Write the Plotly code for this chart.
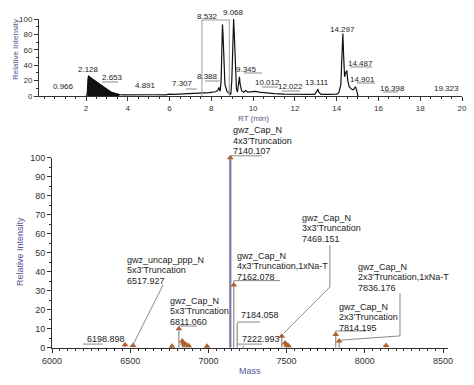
import plotly.graph_objects as go

# ---------------- Chromatogram (RT in min, relative intensity) ----------------
rt = [2.00, 2.06, 2.10, 2.13, 2.20, 2.30, 2.40, 2.50, 2.60, 2.70, 2.80, 2.90, 3.00,
      3.10, 3.20, 3.30, 3.40, 3.50, 3.60, 3.80, 4.00, 4.50, 4.90, 5.30, 5.80, 6.00,
      6.20, 6.60, 7.00, 7.30, 7.60, 7.90, 8.20, 8.30, 8.37, 8.42, 8.47, 8.50, 8.532,
      8.56, 8.60, 8.65, 8.75, 8.85, 8.93, 8.98, 9.02, 9.068, 9.10, 9.15, 9.20, 9.25,
      9.30, 9.345, 9.38, 9.45, 9.55, 9.65, 9.75, 9.90, 10.00, 10.10, 10.30, 10.60,
      11.00, 11.50, 12.00, 12.50, 12.95, 13.05, 13.10, 13.15, 13.25, 13.60, 14.00,
      14.10, 14.20, 14.25, 14.297, 14.33, 14.38, 14.43, 14.487, 14.53, 14.60, 14.70,
      14.80, 14.87, 14.90, 14.95, 15.00, 15.02]
rt_int = [0.5, 2, 24, 26, 24, 22, 20, 18, 16, 14, 12, 10, 8,
          6.5, 5, 4, 3, 2.2, 1.8, 1.5, 1.4, 1.5, 1.8, 1.6, 1.5, 2.5,
          2, 2.5, 3, 3.5, 3.8, 4.5, 5.5, 7, 11, 6, 20, 70, 93,
          80, 40, 15, 6, 3, 2, 20, 80, 100, 80, 30, 10, 5,
          15, 25, 15, 7, 5, 7, 5, 5.5, 6.5, 6, 5, 4,
          3, 2.5, 2.2, 2, 2, 6, 9, 5, 2, 2, 2.5,
          4, 15, 50, 81, 55, 25, 30, 33, 20, 12, 9,
          8, 11, 12, 8, 1, 0]
# noisy (dense) region right after injection, drawn as a filled band
band_rt = [2.06, 2.10, 2.13, 2.20, 2.30, 2.40, 2.50, 2.60, 2.70, 2.80, 2.90, 3.00,
           3.10, 3.20, 3.30, 3.40, 3.50, 3.60]
band_top = [2, 24, 26, 24, 22, 20, 18, 16, 14, 12, 10, 8,
            6.5, 5, 4, 3, 2.2, 1.8]

rt_labels = ["0.966", "2.128", "2.653", "4.891", "7.307", "8.388", "8.532", "9.068",
             "9.345", "10.012", "12.022", "13.111", "14.297", "14.487", "14.901",
             "16.398", "19.323"]
rt_label_x = [0.90, 2.10, 3.25, 4.83, 6.64, 7.84, 7.84, 9.08, 9.66, 10.71, 11.77,
              13.06, 14.30, 15.12, 15.26, 16.65, 19.28]
rt_label_y = [11.7, 35, 23.4, 13, 15.6, 24.7, 102.6, 109, 33.8, 17, 11.7, 17, 87,
              41.6, 20.8, 9.1, 9.1]
# short underlines of the peak labels: (x0, x1, y)
rt_underlines = [(2.77, 3.53, 18.2), (6.79, 7.31, 9.1), (7.70, 8.41, 19.5),
                 (9.56, 10.42, 29.9), (10.42, 11.19, 11.7), (11.38, 12.24, 6.5),
                 (14.64, 15.69, 37.7), (14.97, 15.84, 16.9), (16.22, 16.94, 5.2)]
rt_box = [7.55, 8.86, 98.7]

# ---------------- Deconvoluted mass spectrum ----------------
mass = [6467, 6518, 6767, 6811.06, 6833, 6840, 6848, 6858, 6875, 6991,
        7140.107, 7162.078, 7184.058, 7222.993, 7469.151, 7490, 7500, 7512,
        7814.195, 7836.176, 8136]
mass_int = [1.5, 1.2, 0.8, 10, 3.5, 2.5, 2, 1.5, 1, 0.8,
            100, 33, 13, 1, 6, 2.5, 1.5, 1,
            7, 3.5, 1.2]
mass_marked = [True, True, True, True, True, True, True, True, True, True,
               True, True, False, False, True, True, True, True,
               True, True, True]

ms_labels = [
    ["6198.898"],
    ["gwz_uncap_ppp_N", "5x3’Truncation", "6517.927"],
    ["gwz_Cap_N", "5x3’Truncation", "6811.060"],
    ["gwz_Cap_N", "4x3’Truncation", "7140.107"],
    ["gwz_Cap_N", "4x3’Truncation,1xNa-T", "7162.078"],
    ["7184.058"],
    ["7222.993"],
    ["gwz_Cap_N", "3x3’Truncation", "7469.151"],
    ["gwz_Cap_N", "2x3’Truncation", "7814.195"],
    ["gwz_Cap_N", "2x3’Truncation,1xNa-T", "7836.176"],
]
ms_label_x = [6211, 6467, 6742, 7145, 7170, 7196, 7202, 7586, 7822, 7944]
ms_label_y = [4.6, 46.2, 24.7, 114.5, 48.3, 17.2, 4.6, 68.3, 21.4, 42.5]
# leader lines: list of polylines (mass, intensity)
ms_leaders = [
    [(6198, 1.9), (6326, 1.9)],
    [(6710, 33), (6518, 1.5)],
    [(6812, 10), (6812, 11.4), (6927, 11.4)],
    [(7140, 99.5), (7145, 101), (7343, 101)],
    [(7162, 33.5), (7162, 35.3), (7458, 35.3)],
    [(7184, 13.5), (7330, 13.5)],
    [(7189, 1.9), (7343, 1.9)],
    [(7777, 54), (7777, 32), (7480, 7.5)],
    [(7814, 7.5), (7814, 8.8), (8008, 8.8)],
    [(8225, 28.8), (8225, 6.2), (7845, 4)],
]

W, H = 474, 385
FONT = "Liberation Sans, Arial, sans-serif"
AXC = "#333333"
TITLEC = "#54548f"
LEADC = "#8a8a8a"
MARKC = "#b0602a"

# plot-area geometry (pixels)
TOP_X = (39, 462, -0.25, 20.0)      # px0, px1, v0, v1
TOP_Y = (96, 19, 0.0, 100.0)
BOT_X = (52, 448, 6000.0, 8532.0)
BOT_Y = (347.7, 157.7, 0.0, 100.0)


def px_per_unit(g):
    return abs(g[1] - g[0]) / (g[3] - g[2])


def to_paper_x(g, v):
    return (g[0] + (v - g[2]) * (g[1] - g[0]) / (g[3] - g[2])) / W


def to_paper_y(g, v):
    return 1 - (g[0] + (v - g[2]) * (g[1] - g[0]) / (g[3] - g[2])) / H


fig = go.Figure()

# chromatogram
fig.add_trace(go.Scatter(x=band_rt, y=band_top, mode="lines", fill="tozeroy",
                         fillcolor="#111111", line=dict(color="#111111", width=1),
                         xaxis="x", yaxis="y", hoverinfo="skip", showlegend=False))
fig.add_trace(go.Scatter(x=rt, y=rt_int, mode="lines",
                         line=dict(color="#111111", width=1.2),
                         xaxis="x", yaxis="y", showlegend=False))

# mass spectrum sticks
main_i = mass_int.index(max(mass_int))
sx, sy = [], []
for i, (m, v) in enumerate(zip(mass, mass_int)):
    if i == main_i:
        continue
    sx += [m, m, None]
    sy += [0, v, None]
fig.add_trace(go.Scatter(x=sx, y=sy, mode="lines", line=dict(color="#8c8c8c", width=1.2),
                         xaxis="x2", yaxis="y2", showlegend=False, hoverinfo="skip"))
fig.add_trace(go.Scatter(x=[mass[main_i], mass[main_i]], y=[0, mass_int[main_i]],
                         mode="lines", line=dict(color="#7a7aa8", width=2.2),
                         xaxis="x2", yaxis="y2", showlegend=False, hoverinfo="skip"))
mx = [m for m, k in zip(mass, mass_marked) if k]
my = [v for v, k in zip(mass_int, mass_marked) if k]
fig.add_trace(go.Scatter(x=mx, y=my, mode="markers",
                         marker=dict(symbol="triangle-up", size=6, color=MARKC),
                         cliponaxis=False, xaxis="x2", yaxis="y2", showlegend=False))

shapes = []
# chromatogram box and underlines
x0b, x1b, yb = rt_box
shapes.append(dict(type="path", xref="x", yref="y",
                   path=f"M {x0b},0 L {x0b},{yb} L {x1b},{yb} L {x1b},0",
                   line=dict(color="#9a9a9a", width=1)))
for a, b, y in rt_underlines:
    shapes.append(dict(type="line", xref="x", yref="y", x0=a, x1=b, y0=y, y1=y,
                       line=dict(color=LEADC, width=1)))
# leader lines of the spectrum, drawn in paper coordinates so nothing gets clipped
for poly in ms_leaders:
    p = "M " + " L ".join(f"{to_paper_x(BOT_X, x):.5f},{to_paper_y(BOT_Y, y):.5f}"
                          for x, y in poly)
    shapes.append(dict(type="path", xref="paper", yref="paper", path=p,
                       line=dict(color=LEADC, width=1)))

annotations = []
k_top = px_per_unit(TOP_Y)
for t, x, y in zip(rt_labels, rt_label_x, rt_label_y):
    ys = max(0.0, y - 100) * k_top
    annotations.append(dict(x=x, y=min(y, 100), xref="x", yref="y", text=t,
                            showarrow=False, xanchor="center", yanchor="middle",
                            yshift=ys,
                            font=dict(family=FONT, size=8, color="#222222")))
k_bot = px_per_unit(BOT_Y)
for lines, x, y in zip(ms_labels, ms_label_x, ms_label_y):
    ys = max(0.0, y - 100) * k_bot
    for k, t in enumerate(lines):
        annotations.append(dict(x=x, y=min(y, 100), xref="x2", yref="y2", text=t,
                                showarrow=False, xanchor="left", yanchor="middle",
                                yshift=ys - 10.4 * k,
                                font=dict(family=FONT, size=9, color="#222222")))
# axis titles
annotations += [
    dict(x=15 / W, y=1 - 50 / H, xref="paper", yref="paper", text="Relative Intensity",
         textangle=-90, showarrow=False, xanchor="center", yanchor="middle",
         font=dict(family=FONT, size=8, color=TITLEC)),
    dict(x=253 / W, y=1 - 118 / H, xref="paper", yref="paper", text="RT (min)",
         showarrow=False, xanchor="center", yanchor="middle",
         font=dict(family=FONT, size=8, color=TITLEC)),
    dict(x=20 / W, y=1 - 252 / H, xref="paper", yref="paper", text="Relative Intensity",
         textangle=-90, showarrow=False, xanchor="center", yanchor="middle",
         font=dict(family=FONT, size=9, color=TITLEC)),
    dict(x=250 / W, y=1 - 371 / H, xref="paper", yref="paper", text="Mass",
         showarrow=False, xanchor="center", yanchor="middle",
         font=dict(family=FONT, size=9, color=TITLEC)),
]


def axis(**kw):
    base = dict(showline=True, linecolor=AXC, linewidth=1, ticks="outside", ticklen=4,
                tickcolor=AXC, showgrid=False, zeroline=False, fixedrange=True,
                automargin=False)
    base.update(kw)
    return base


fig.update_layout(
    width=W, height=H, margin=dict(l=0, r=0, t=0, b=0),
    paper_bgcolor="white", plot_bgcolor="white", showlegend=False,
    font=dict(family=FONT, color=AXC),
    xaxis=axis(domain=[TOP_X[0] / W, TOP_X[1] / W], range=[TOP_X[2], TOP_X[3]], anchor="y",
               tickvals=list(range(2, 21, 2)), tickfont=dict(size=8, color=AXC),
               ticklabelstandoff=0,
               minor=dict(dtick=0.5, tick0=0, ticks="outside", ticklen=2, tickcolor=AXC)),
    yaxis=axis(domain=[1 - TOP_Y[0] / H, 1 - TOP_Y[1] / H], range=[TOP_Y[2], TOP_Y[3]],
               anchor="x", tickvals=list(range(0, 101, 20)), tickfont=dict(size=8, color=AXC),
               minor=dict(dtick=10, tick0=0, ticks="outside", ticklen=2, tickcolor=AXC)),
    xaxis2=axis(domain=[BOT_X[0] / W, BOT_X[1] / W], range=[BOT_X[2], BOT_X[3]],
                anchor="y2", tick0=6000, dtick=500, tickfont=dict(size=9, color=AXC),
                minor=dict(dtick=50, tick0=6000, ticks="outside", ticklen=2, tickcolor=AXC)),
    yaxis2=axis(domain=[1 - BOT_Y[0] / H, 1 - BOT_Y[1] / H], range=[BOT_Y[2], BOT_Y[3]],
                anchor="x2", tick0=0, dtick=10, tickfont=dict(size=9, color=AXC),
                minor=dict(dtick=5, tick0=0, ticks="outside", ticklen=2, tickcolor=AXC)),
    shapes=shapes, annotations=annotations,
)

fig.write_html("out.html", config={"displayModeBar": False},
               post_script="document.body.style.margin='0';document.body.style.overflow='hidden';")
